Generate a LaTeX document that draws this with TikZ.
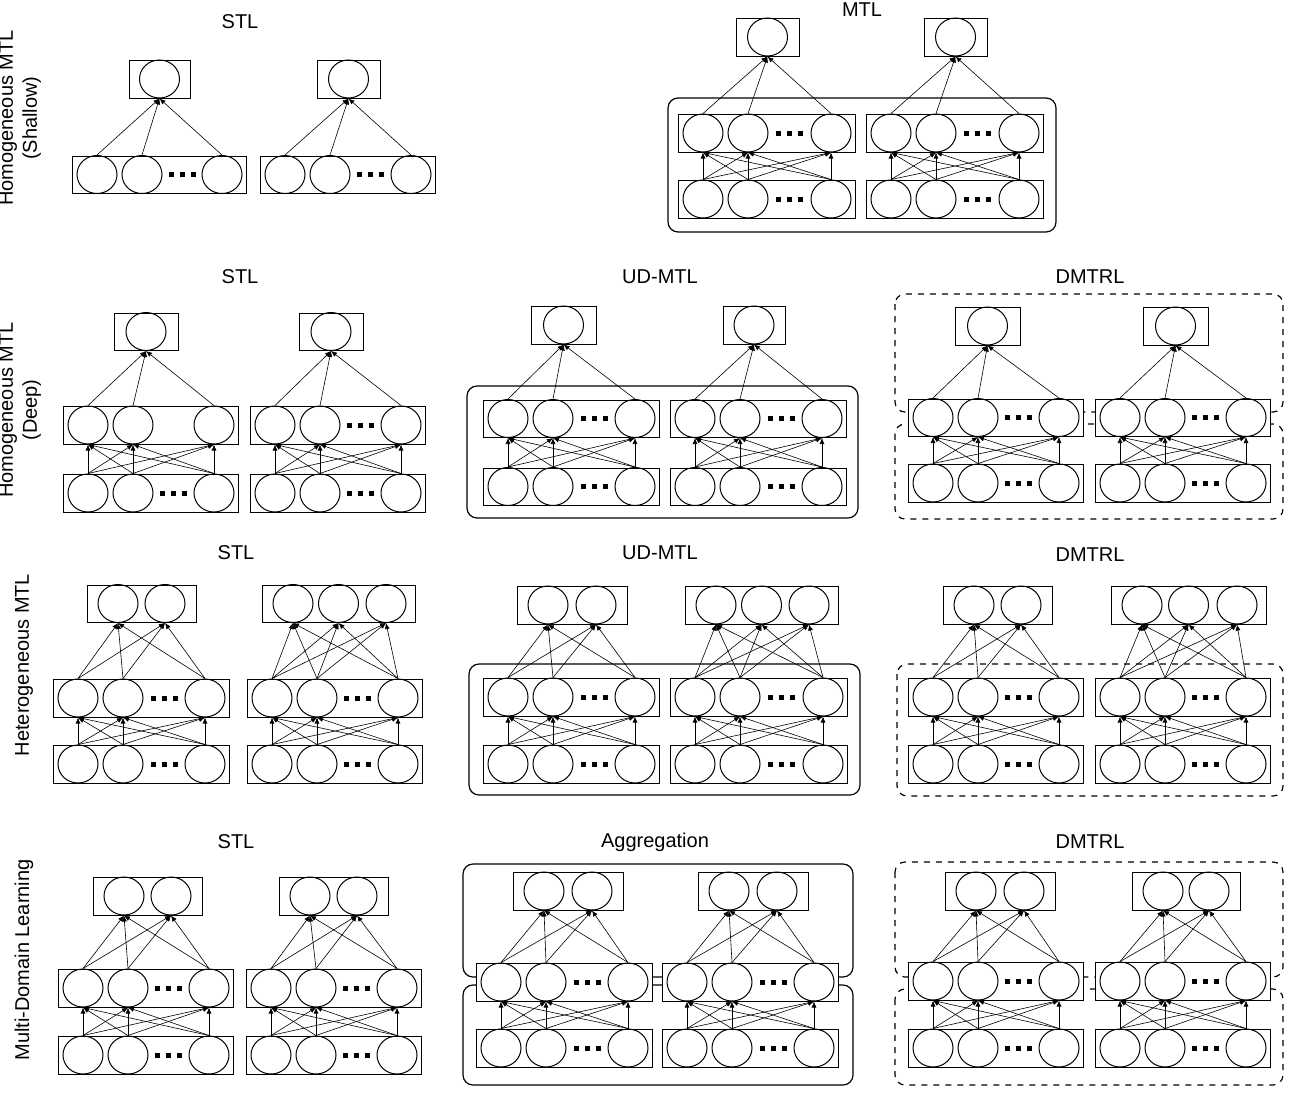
\documentclass[tikz,border=0pt]{standalone}
\usepackage{fontspec}
\setmainfont{Liberation Sans}
\usetikzlibrary{shapes.geometric,arrows.meta}
\tikzset{
 box/.style={draw,line width=0.5pt,fill=white},
 circ/.style={draw,ellipse,line width=0.5pt,minimum width=20pt,minimum height=19pt,inner sep=0pt},
 edge/.style={line width=0.3pt,-{Latex[length=3pt,width=2.5pt]}},
 cont/.style={draw,line width=0.6pt,rounded corners=5pt},
 dcont/.style={cont,dashed},
 ttl/.style={font=\fontsize{10}{12}\selectfont},
}
\newcommand\Lay[6]{%
 \draw[box] (#2,#3) rectangle (#4,#5);
 \node[circ] (#1a) at ({#2+25},{(#3+#5)/2}) {};
 \node[circ] (#1b) at ({#2+70},{(#3+#5)/2}) {};
 \node[circ] (#1c) at ({#4-24},{(#3+#5)/2}) {};
 \ifnum#6=1
 \foreach \d in {-11,0,11}{\fill ({(#2+#4+46)/2+\d-2.5},{(#3+#5)/2-2.5}) rectangle ++(5,5);}
 \fi}
\newcommand\Top[6]{%
 \draw[box] (#2,#3) rectangle (#4,#5);
 \ifnum#6=1 \node[circ] (#1a) at ({(#2+#4)/2},{(#3+#5)/2}) {};\fi
 \ifnum#6=2 \node[circ] (#1a) at ({#2+31},{(#3+#5)/2}) {};
   \node[circ] (#1b) at ({#4-31},{(#3+#5)/2}) {};\fi
 \ifnum#6=3 \node[circ] (#1a) at ({#2+31},{(#3+#5)/2}) {};
   \node[circ] (#1b) at ({(#2+#4)/2},{(#3+#5)/2}) {};
   \node[circ] (#1c) at ({#4-29},{(#3+#5)/2}) {};\fi}
\newcommand\Conn[3]{\foreach \i in {a,b,c}{\foreach \j in {#3}{\draw[edge] (#1\i.north) -- (#2\j.south);}}}
\begin{document}
\begin{tikzpicture}[x=0.5pt,y=-0.5pt]
\useasboundingbox (0,0) rectangle (1293,1092);
% side labels
\node[ttl,rotate=90,align=center] (s1) at (20,118) {Homogeneous MTL\\(Shallow)};
\node[ttl,rotate=90,align=center] (s2) at (20,410) {Homogeneous MTL\\(Deep)};
\node[ttl,rotate=90] (s3) at (24,665) {Heterogeneous MTL};
\node[ttl,rotate=90] (s4) at (24,960) {Multi-Domain Learning};
% titles
\node[ttl] (t1) at (240,22) {STL};
\node[ttl] (t2) at (862,10) {MTL};
\node[ttl] (t3) at (240,277) {STL};
\node[ttl] (t4) at (660,277) {UD-MTL};
\node[ttl] (t5) at (1090,277) {DMTRL};
\node[ttl] (t6) at (236,553) {STL};
\node[ttl] (t7) at (660,553) {UD-MTL};
\node[ttl] (t8) at (1090,555) {DMTRL};
\node[ttl] (t9) at (236,842) {STL};
\node[ttl] (t10) at (655,842) {Aggregation};
\node[ttl] (t11) at (1090,842) {DMTRL};
% containers
\draw[cont] (668,98) rectangle (1056,232);
\draw[cont] (467,386) rectangle (858,518);
\draw[dcont] (895,294) rectangle (1283,412);
\draw[dcont] (895,424) rectangle (1283,519);
\draw[cont] (469,664) rectangle (860,795);
\draw[dcont] (897,664) rectangle (1283,796);
\draw[cont] (463,864) rectangle (853,977);
\draw[cont] (463,985) rectangle (853,1085);
\draw[dcont] (895,862) rectangle (1283,977);
\draw[dcont] (895,989) rectangle (1283,1085);
% ===== Row 1
\Top{aT}{129}{60}{190}{98}{1}\Lay{aU}{72}{156}{246}{193}{1}\Conn{aU}{aT}{a}
\Top{bT}{317}{60}{380}{98}{1}\Lay{bU}{260}{156}{435}{193}{1}\Conn{bU}{bT}{a}
\Top{cT}{736}{18}{799}{56}{1}\Lay{cU}{678}{114}{855}{152}{1}\Lay{cL}{678}{180}{855}{218}{1}
\Conn{cU}{cT}{a}\Conn{cL}{cU}{a,b,c}
\Top{dT}{924}{18}{987}{56}{1}\Lay{dU}{866}{114}{1043}{152}{1}\Lay{dL}{866}{180}{1043}{218}{1}
\Conn{dU}{dT}{a}\Conn{dL}{dU}{a,b,c}
% ===== Row 2
\Top{eT}{114}{313}{178}{350}{1}\Lay{eU}{63}{406}{238}{444}{0}\Lay{eL}{63}{474}{238}{512}{1}
\Conn{eU}{eT}{a}\Conn{eL}{eU}{a,b,c}
\Top{fT}{299}{313}{363}{350}{1}\Lay{fU}{250}{406}{425}{444}{1}\Lay{fL}{250}{474}{425}{512}{1}
\Conn{fU}{fT}{a}\Conn{fL}{fU}{a,b,c}
\Top{gT}{531}{306}{596}{344}{1}\Lay{gU}{483}{400}{659}{437}{1}\Lay{gL}{483}{468}{659}{505}{1}
\Conn{gU}{gT}{a}\Conn{gL}{gU}{a,b,c}
\Top{hT}{723}{306}{785}{344}{1}\Lay{hU}{670}{400}{846}{437}{1}\Lay{hL}{670}{468}{846}{505}{1}
\Conn{hU}{hT}{a}\Conn{hL}{hU}{a,b,c}
\Top{iT}{955}{307}{1020}{345}{1}\Lay{iU}{908}{399}{1083}{436}{1}\Lay{iL}{908}{464}{1083}{502}{1}
\Conn{iU}{iT}{a}\Conn{iL}{iU}{a,b,c}
\Top{jT}{1143}{307}{1208}{345}{1}\Lay{jU}{1095}{399}{1270}{436}{1}\Lay{jL}{1095}{464}{1270}{502}{1}
\Conn{jU}{jT}{a}\Conn{jL}{jU}{a,b,c}
% ===== Row 3
\Top{kT}{87}{585}{196}{622}{2}\Lay{kU}{53}{679}{229}{717}{1}\Lay{kL}{53}{745}{229}{783}{1}
\Conn{kU}{kT}{a,b}\Conn{kL}{kU}{a,b,c}
\Top{lT}{262}{585}{415}{622}{3}\Lay{lU}{247}{679}{422}{717}{1}\Lay{lL}{247}{745}{422}{783}{1}
\Conn{lU}{lT}{a,b,c}\Conn{lL}{lU}{a,b,c}
\Top{mT}{517}{586}{627}{624}{2}\Lay{mU}{483}{678}{659}{716}{1}\Lay{mL}{483}{745}{659}{783}{1}
\Conn{mU}{mT}{a,b}\Conn{mL}{mU}{a,b,c}
\Top{nT}{685}{586}{838}{624}{3}\Lay{nU}{670}{678}{847}{716}{1}\Lay{nL}{670}{745}{847}{783}{1}
\Conn{nU}{nT}{a,b,c}\Conn{nL}{nU}{a,b,c}
\Top{oT}{943}{586}{1052}{624}{2}\Lay{oU}{908}{678}{1083}{716}{1}\Lay{oL}{908}{745}{1083}{783}{1}
\Conn{oU}{oT}{a,b}\Conn{oL}{oU}{a,b,c}
\Top{pT}{1111}{586}{1266}{624}{3}\Lay{pU}{1095}{678}{1270}{716}{1}\Lay{pL}{1095}{745}{1270}{783}{1}
\Conn{pU}{pT}{a,b,c}\Conn{pL}{pU}{a,b,c}
% ===== Row 4
\Top{qT}{93}{877}{202}{915}{2}\Lay{qU}{58}{969}{233}{1007}{1}\Lay{qL}{58}{1036}{233}{1074}{1}
\Conn{qU}{qT}{a,b}\Conn{qL}{qU}{a,b,c}
\Top{rT}{279}{877}{388}{915}{2}\Lay{rU}{246}{969}{421}{1007}{1}\Lay{rL}{246}{1036}{421}{1074}{1}
\Conn{rU}{rT}{a,b}\Conn{rL}{rU}{a,b,c}
\Top{sT}{513}{872}{623}{910}{2}\Lay{sU}{476}{963}{652}{1001}{1}\Lay{sL}{476}{1029}{652}{1067}{1}
\Conn{sU}{sT}{a,b}\Conn{sL}{sU}{a,b,c}
\Top{uT}{698}{872}{808}{910}{2}\Lay{uU}{662}{963}{838}{1001}{1}\Lay{uL}{662}{1029}{838}{1067}{1}
\Conn{uU}{uT}{a,b}\Conn{uL}{uU}{a,b,c}
\Top{vT}{945}{872}{1055}{910}{2}\Lay{vU}{908}{962}{1083}{1000}{1}\Lay{vL}{908}{1029}{1083}{1067}{1}
\Conn{vU}{vT}{a,b}\Conn{vL}{vU}{a,b,c}
\Top{wT}{1132}{872}{1240}{910}{2}\Lay{wU}{1095}{962}{1270}{1000}{1}\Lay{wL}{1095}{1029}{1270}{1067}{1}
\Conn{wU}{wT}{a,b}\Conn{wL}{wU}{a,b,c}
\end{tikzpicture}
\end{document}
